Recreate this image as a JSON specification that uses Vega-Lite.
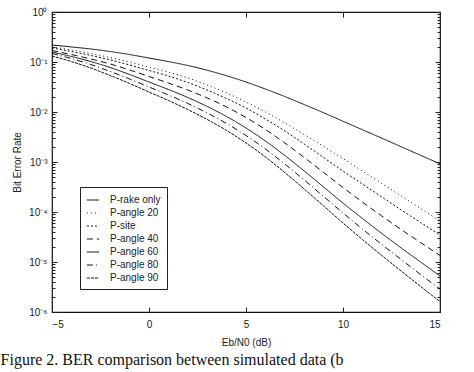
{
  "$schema": "https://vega.github.io/schema/vega-lite/v6.json",
  "autosize": "none",
  "width": 388,
  "height": 300,
  "padding": {"left": 52, "top": 12, "right": 34, "bottom": 60},
  "background": "white",
  "config": {
    "view": {"stroke": "#111", "strokeWidth": 1.2},
    "font": "Liberation Sans",
    "axis": {"labelColor": "#222", "titleColor": "#222", "domain": false, "grid": false, "tickColor": "#222", "labelFont": "Liberation Sans", "titleFont": "Liberation Sans", "titleFontWeight": "normal"}
  },
  "title": {"text": "Figure 2. BER comparison between simulated data (b", "orient": "bottom", "anchor": "start", "font": "Liberation Serif", "fontSize": 16, "fontWeight": "normal", "color": "#111", "dx": -12, "offset": 5},
  "data": {"values": [
    {"x": -5, "s": "P-rake only", "ber": 0.219}, {"x": -4, "s": "P-rake only", "ber": 0.2}, {"x": -3, "s": "P-rake only", "ber": 0.182}, {"x": -2, "s": "P-rake only", "ber": 0.162}, {"x": -1, "s": "P-rake only", "ber": 0.141}, {"x": 0, "s": "P-rake only", "ber": 0.12}, {"x": 1, "s": "P-rake only", "ber": 0.102}, {"x": 2, "s": "P-rake only", "ber": 0.0851}, {"x": 3, "s": "P-rake only", "ber": 0.0684}, {"x": 4, "s": "P-rake only", "ber": 0.0531}, {"x": 5, "s": "P-rake only", "ber": 0.0398}, {"x": 6, "s": "P-rake only", "ber": 0.0288}, {"x": 7, "s": "P-rake only", "ber": 0.0204}, {"x": 8, "s": "P-rake only", "ber": 0.0141}, {"x": 9, "s": "P-rake only", "ber": 0.00966}, {"x": 10, "s": "P-rake only", "ber": 0.00653}, {"x": 11, "s": "P-rake only", "ber": 0.00442}, {"x": 12, "s": "P-rake only", "ber": 0.00299}, {"x": 13, "s": "P-rake only", "ber": 0.00202}, {"x": 14, "s": "P-rake only", "ber": 0.00136}, {"x": 15, "s": "P-rake only", "ber": 0.00092},
    {"x": -5, "s": "P-angle 20", "ber": 0.2}, {"x": -4, "s": "P-angle 20", "ber": 0.174}, {"x": -3, "s": "P-angle 20", "ber": 0.148}, {"x": -2, "s": "P-angle 20", "ber": 0.123}, {"x": -1, "s": "P-angle 20", "ber": 0.1}, {"x": 0, "s": "P-angle 20", "ber": 0.0794}, {"x": 1, "s": "P-angle 20", "ber": 0.0631}, {"x": 2, "s": "P-angle 20", "ber": 0.0479}, {"x": 3, "s": "P-angle 20", "ber": 0.0347}, {"x": 4, "s": "P-angle 20", "ber": 0.024}, {"x": 5, "s": "P-angle 20", "ber": 0.0158}, {"x": 6, "s": "P-angle 20", "ber": 0.01}, {"x": 7, "s": "P-angle 20", "ber": 0.00603}, {"x": 8, "s": "P-angle 20", "ber": 0.00355}, {"x": 9, "s": "P-angle 20", "ber": 0.00204}, {"x": 10, "s": "P-angle 20", "ber": 0.00117}, {"x": 11, "s": "P-angle 20", "ber": 0.00066}, {"x": 12, "s": "P-angle 20", "ber": 0.000372}, {"x": 13, "s": "P-angle 20", "ber": 0.000209}, {"x": 14, "s": "P-angle 20", "ber": 0.000117}, {"x": 15, "s": "P-angle 20", "ber": 0.000066},
    {"x": -5, "s": "P-site", "ber": 0.191}, {"x": -4, "s": "P-site", "ber": 0.162}, {"x": -3, "s": "P-site", "ber": 0.135}, {"x": -2, "s": "P-site", "ber": 0.11}, {"x": -1, "s": "P-site", "ber": 0.0871}, {"x": 0, "s": "P-site", "ber": 0.0676}, {"x": 1, "s": "P-site", "ber": 0.0525}, {"x": 2, "s": "P-site", "ber": 0.0389}, {"x": 3, "s": "P-site", "ber": 0.0275}, {"x": 4, "s": "P-site", "ber": 0.0186}, {"x": 5, "s": "P-site", "ber": 0.012}, {"x": 6, "s": "P-site", "ber": 0.00724}, {"x": 7, "s": "P-site", "ber": 0.00417}, {"x": 8, "s": "P-site", "ber": 0.00229}, {"x": 9, "s": "P-site", "ber": 0.00123}, {"x": 10, "s": "P-site", "ber": 0.00066}, {"x": 11, "s": "P-site", "ber": 0.000363}, {"x": 12, "s": "P-site", "ber": 0.0002}, {"x": 13, "s": "P-site", "ber": 0.00011}, {"x": 14, "s": "P-site", "ber": 0.0000617}, {"x": 15, "s": "P-site", "ber": 0.0000347},
    {"x": -5, "s": "P-angle 40", "ber": 0.17}, {"x": -4, "s": "P-angle 40", "ber": 0.141}, {"x": -3, "s": "P-angle 40", "ber": 0.115}, {"x": -2, "s": "P-angle 40", "ber": 0.0912}, {"x": -1, "s": "P-angle 40", "ber": 0.0692}, {"x": 0, "s": "P-angle 40", "ber": 0.0513}, {"x": 1, "s": "P-angle 40", "ber": 0.038}, {"x": 2, "s": "P-angle 40", "ber": 0.0275}, {"x": 3, "s": "P-angle 40", "ber": 0.0191}, {"x": 4, "s": "P-angle 40", "ber": 0.0126}, {"x": 5, "s": "P-angle 40", "ber": 0.00776}, {"x": 6, "s": "P-angle 40", "ber": 0.00447}, {"x": 7, "s": "P-angle 40", "ber": 0.0024}, {"x": 8, "s": "P-angle 40", "ber": 0.00123}, {"x": 9, "s": "P-angle 40", "ber": 0.000617}, {"x": 10, "s": "P-angle 40", "ber": 0.000309}, {"x": 11, "s": "P-angle 40", "ber": 0.000158}, {"x": 12, "s": "P-angle 40", "ber": 0.0000832}, {"x": 13, "s": "P-angle 40", "ber": 0.0000447}, {"x": 14, "s": "P-angle 40", "ber": 0.0000245}, {"x": 15, "s": "P-angle 40", "ber": 0.0000135},
    {"x": -5, "s": "P-angle 60", "ber": 0.158}, {"x": -4, "s": "P-angle 60", "ber": 0.129}, {"x": -3, "s": "P-angle 60", "ber": 0.102}, {"x": -2, "s": "P-angle 60", "ber": 0.0776}, {"x": -1, "s": "P-angle 60", "ber": 0.0562}, {"x": 0, "s": "P-angle 60", "ber": 0.0398}, {"x": 1, "s": "P-angle 60", "ber": 0.0282}, {"x": 2, "s": "P-angle 60", "ber": 0.0195}, {"x": 3, "s": "P-angle 60", "ber": 0.0129}, {"x": 4, "s": "P-angle 60", "ber": 0.00813}, {"x": 5, "s": "P-angle 60", "ber": 0.00479}, {"x": 6, "s": "P-angle 60", "ber": 0.00263}, {"x": 7, "s": "P-angle 60", "ber": 0.00135}, {"x": 8, "s": "P-angle 60", "ber": 0.000661}, {"x": 9, "s": "P-angle 60", "ber": 0.000316}, {"x": 10, "s": "P-angle 60", "ber": 0.000151}, {"x": 11, "s": "P-angle 60", "ber": 0.0000741}, {"x": 12, "s": "P-angle 60", "ber": 0.0000372}, {"x": 13, "s": "P-angle 60", "ber": 0.0000191}, {"x": 14, "s": "P-angle 60", "ber": 0.00001}, {"x": 15, "s": "P-angle 60", "ber": 0.00000525},
    {"x": -5, "s": "P-angle 80", "ber": 0.148}, {"x": -4, "s": "P-angle 80", "ber": 0.117}, {"x": -3, "s": "P-angle 80", "ber": 0.0891}, {"x": -2, "s": "P-angle 80", "ber": 0.0646}, {"x": -1, "s": "P-angle 80", "ber": 0.0457}, {"x": 0, "s": "P-angle 80", "ber": 0.0316}, {"x": 1, "s": "P-angle 80", "ber": 0.0219}, {"x": 2, "s": "P-angle 80", "ber": 0.0148}, {"x": 3, "s": "P-angle 80", "ber": 0.00955}, {"x": 4, "s": "P-angle 80", "ber": 0.00589}, {"x": 5, "s": "P-angle 80", "ber": 0.00339}, {"x": 6, "s": "P-angle 80", "ber": 0.00182}, {"x": 7, "s": "P-angle 80", "ber": 0.000912}, {"x": 8, "s": "P-angle 80", "ber": 0.000437}, {"x": 9, "s": "P-angle 80", "ber": 0.000204}, {"x": 10, "s": "P-angle 80", "ber": 0.0000955}, {"x": 11, "s": "P-angle 80", "ber": 0.0000457}, {"x": 12, "s": "P-angle 80", "ber": 0.0000224}, {"x": 13, "s": "P-angle 80", "ber": 0.0000112}, {"x": 14, "s": "P-angle 80", "ber": 0.00000562}, {"x": 15, "s": "P-angle 80", "ber": 0.00000288},
    {"x": -5, "s": "P-angle 90", "ber": 0.132}, {"x": -4, "s": "P-angle 90", "ber": 0.102}, {"x": -3, "s": "P-angle 90", "ber": 0.0759}, {"x": -2, "s": "P-angle 90", "ber": 0.0537}, {"x": -1, "s": "P-angle 90", "ber": 0.0372}, {"x": 0, "s": "P-angle 90", "ber": 0.0251}, {"x": 1, "s": "P-angle 90", "ber": 0.017}, {"x": 2, "s": "P-angle 90", "ber": 0.0112}, {"x": 3, "s": "P-angle 90", "ber": 0.00708}, {"x": 4, "s": "P-angle 90", "ber": 0.00427}, {"x": 5, "s": "P-angle 90", "ber": 0.0024}, {"x": 6, "s": "P-angle 90", "ber": 0.00126}, {"x": 7, "s": "P-angle 90", "ber": 0.000617}, {"x": 8, "s": "P-angle 90", "ber": 0.000288}, {"x": 9, "s": "P-angle 90", "ber": 0.000132}, {"x": 10, "s": "P-angle 90", "ber": 0.0000603}, {"x": 11, "s": "P-angle 90", "ber": 0.0000282}, {"x": 12, "s": "P-angle 90", "ber": 0.0000135}, {"x": 13, "s": "P-angle 90", "ber": 0.0000066}, {"x": 14, "s": "P-angle 90", "ber": 0.00000324}, {"x": 15, "s": "P-angle 90", "ber": 0.00000162}
  ]},
  "layer": [
    {
      "mark": {"type": "line", "strokeWidth": 1, "color": "#111", "clip": true, "interpolate": "monotone"},
      "encoding": {
        "x": {"field": "x", "type": "quantitative", "scale": {"domain": [-5, 15], "nice": false, "zero": false},
          "axis": {"values": [-5, 0, 5, 10, 15], "title": "Eb/N0 (dB)", "titleFontSize": 10, "labelFontSize": 10, "tickSize": -5, "labelPadding": 12, "titlePadding": 8}},
        "y": {"field": "ber", "type": "quantitative", "scale": {"type": "log", "domain": [0.000001, 1], "nice": false},
          "axis": {"title": "Bit Error Rate", "titleFontSize": 10, "labelFontSize": 10, "titlePadding": 6,
            "values": [0.000001, 2e-6, 3e-6, 4e-6, 5e-6, 6e-6, 7e-6, 8e-6, 9e-6, 0.00001, 2e-5, 3e-5, 4e-5, 5e-5, 6e-5, 7e-5, 8e-5, 9e-5, 0.0001, 2e-4, 3e-4, 4e-4, 5e-4, 6e-4, 7e-4, 8e-4, 9e-4, 0.001, 0.002, 0.003, 0.004, 0.005, 0.006, 0.007, 0.008, 0.009, 0.01, 0.02, 0.03, 0.04, 0.05, 0.06, 0.07, 0.08, 0.09, 0.1, 0.2, 0.3, 0.4, 0.5, 0.6, 0.7, 0.8, 0.9, 1],
            "labelExpr": "datum.value == 1 ? '10⁰' : datum.value == 0.1 ? '10⁻¹' : datum.value == 0.01 ? '10⁻²' : datum.value == 0.001 ? '10⁻³' : datum.value == 0.0001 ? '10⁻⁴' : datum.value == 0.00001 ? '10⁻⁵' : datum.value == 0.000001 ? '10⁻⁶' : ''",
            "tickSize": {"condition": {"test": "indexof([1, 0.1, 0.01, 0.001, 0.0001, 0.00001, 0.000001], datum.value) >= 0", "value": -5}, "value": -3},
            "labelPadding": 10}},
        "strokeDash": {"field": "s", "type": "nominal",
          "scale": {"domain": ["P-rake only", "P-angle 20", "P-site", "P-angle 40", "P-angle 60", "P-angle 80", "P-angle 90"],
            "range": [[1, 0], [1, 3], [2, 2], [6, 4], [1, 0], [6, 3, 1, 3], [3, 1]]},
          "legend": {"title": null, "orient": "none", "legendX": 28, "legendY": 175, "strokeColor": "#222", "fillColor": "white", "padding": 6, "labelFontSize": 10, "labelColor": "#222", "symbolType": "stroke", "symbolStrokeColor": "#111", "symbolSize": 150, "symbolStrokeWidth": 1, "rowPadding": 1, "labelOffset": 10}}
      }
    },
    {
      "mark": {"type": "line", "opacity": 0},
      "encoding": {
        "x": {"field": "x", "type": "quantitative", "scale": {"domain": [-5, 15], "nice": false, "zero": false},
          "axis": {"orient": "top", "values": [-5, 0, 5, 10, 15], "labels": false, "title": null, "tickSize": -5}},
        "y": {"field": "ber", "type": "quantitative", "scale": {"type": "log", "domain": [0.000001, 1], "nice": false},
          "axis": {"orient": "right", "labels": false, "title": null,
            "values": [0.000001, 2e-6, 3e-6, 4e-6, 5e-6, 6e-6, 7e-6, 8e-6, 9e-6, 0.00001, 2e-5, 3e-5, 4e-5, 5e-5, 6e-5, 7e-5, 8e-5, 9e-5, 0.0001, 2e-4, 3e-4, 4e-4, 5e-4, 6e-4, 7e-4, 8e-4, 9e-4, 0.001, 0.002, 0.003, 0.004, 0.005, 0.006, 0.007, 0.008, 0.009, 0.01, 0.02, 0.03, 0.04, 0.05, 0.06, 0.07, 0.08, 0.09, 0.1, 0.2, 0.3, 0.4, 0.5, 0.6, 0.7, 0.8, 0.9, 1],
            "tickSize": {"condition": {"test": "indexof([1, 0.1, 0.01, 0.001, 0.0001, 0.00001, 0.000001], datum.value) >= 0", "value": -5}, "value": -3}}},
        "detail": {"field": "s", "type": "nominal"}
      }
    }
  ],
  "resolve": {"axis": {"x": "independent", "y": "independent"}}
}
